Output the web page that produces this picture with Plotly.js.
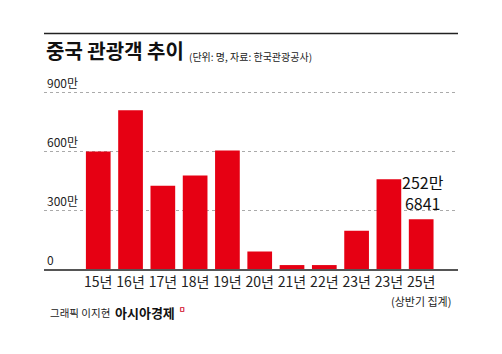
<!DOCTYPE html>
<html>
<head>
<meta charset="utf-8">
<script src="https://cdn.plot.ly/plotly-3.0.1.min.js"></script>
<style>html,body{margin:0;padding:0;background:#fff;}#chart{width:502px;height:354px;}</style>
</head>
<body>
<div id="chart"></div>
<script>
// Data (unit: 만 명)
const years = ['15년','16년','17년','18년','19년','20년','21년','22년','23년','23년','25년<br><span style="font-size:11px">(상반기 집계)</span>'];
const visitors = [598, 807, 423, 476, 602, 89, 20, 20, 194, 456, 252.68];
const yTickVals = [0, 300, 600, 900];
const yTickText = ['0', '300만', '600만', '900만'];
const lastLabel = '252만<br>6841';

const idx = years.map((_, i) => i);
const FONT = 'Liberation Sans Narrow, "Noto Sans CJK KR", sans-serif';
const KFONT = '"Noto Sans CJK KR", sans-serif';

const trace = {
  type: 'bar',
  x: idx,
  y: visitors,
  marker: {color: '#e60013', line: {width: 0}},
  hoverinfo: 'skip'
};

const layout = {
  width: 502, height: 354,
  margin: {l: 44, r: 44, t: 74, b: 85},
  paper_bgcolor: '#fff', plot_bgcolor: '#fff',
  showlegend: false,
  bargap: 0.235,
  xaxis: {
    range: [-1.68, 11.14],
    tickvals: idx, ticktext: years, tickangle: 0,
    showgrid: false, zeroline: false,
    showline: true, linecolor: '#555', linewidth: 1.5,
    ticks: '', tickfont: {family: FONT, size: 14, color: '#222'},
    fixedrange: true
  },
  yaxis: {
    range: [0, 991.5],
    tickvals: yTickVals, ticktext: yTickText,
    ticklabelposition: 'inside top',
    ticklabeloverflow: 'allow',
    showgrid: true, gridcolor: '#aaa', griddash: 'dot', gridwidth: 1,
    zeroline: false, showline: false, ticks: '',
    tickfont: {family: FONT, size: 12, color: '#222'},
    fixedrange: true
  },
  shapes: [
    {type: 'line', xref: 'paper', yref: 'paper', x0: 0, x1: 1, y0: 1.2077, y1: 1.2077,
     line: {color: '#222', width: 1.3}}
  ],
  annotations: [
    {xref: 'paper', yref: 'paper', x: 0, y: 1.036, xanchor: 'left', yanchor: 'bottom',
     text: '<b>중국 관광객 추이</b>', showarrow: false,
     font: {family: KFONT, size: 20, color: '#111'}},
    {xref: 'paper', yref: 'paper', x: 0.345, y: 1.04, xanchor: 'left', yanchor: 'bottom',
     text: '(단위: 명, 자료: 한국관광공사)', showarrow: false,
     font: {family: KFONT, size: 10, color: '#222'}},
    {xref: 'x', yref: 'y', x: idx[idx.length - 1], y: visitors[visitors.length - 1],
     xanchor: 'center', yanchor: 'bottom', yshift: 2, xshift: 2,
     text: lastLabel, showarrow: false,
     font: {family: FONT, size: 16, color: '#111'}},
    {xref: 'paper', yref: 'paper', x: 0.01, y: -0.2256, xanchor: 'left', yanchor: 'middle',
     text: '그래픽 이지현', showarrow: false,
     font: {family: KFONT, size: 10.5, color: '#222'}},
    {xref: 'paper', yref: 'paper', x: 0.167, y: -0.2256, xanchor: 'left', yanchor: 'middle',
     text: '<b>아시아경제</b>', showarrow: false,
     font: {family: KFONT, size: 13, color: '#111'}},
    {xref: 'paper', yref: 'paper', x: 0.322, y: -0.205, xanchor: 'left', yanchor: 'middle',
     text: '<b>ㅁ</b>', showarrow: false,
     font: {family: KFONT, size: 7, color: '#d0021b'}}
  ]
};

Plotly.newPlot('chart', [trace], layout, {displayModeBar: false, staticPlot: true});
</script>
</body>
</html>
